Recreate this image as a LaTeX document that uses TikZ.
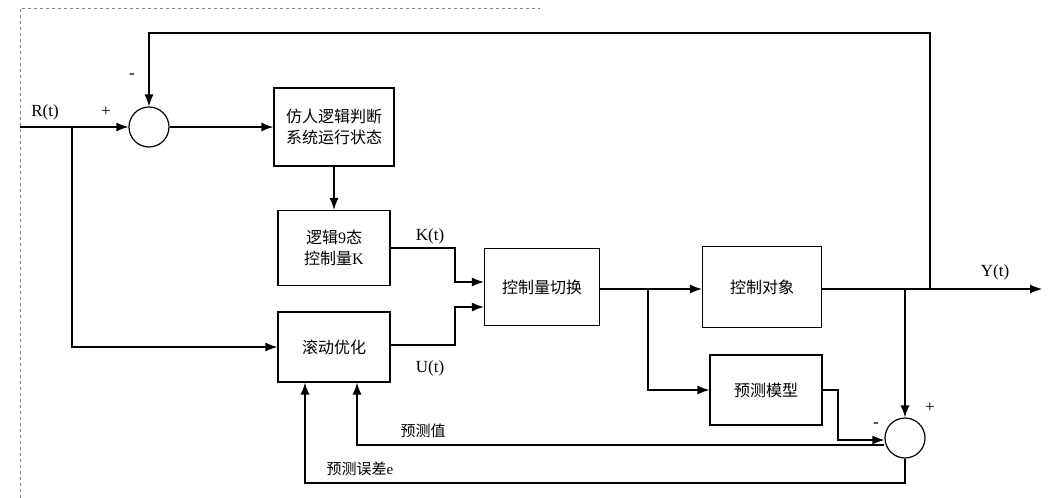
\documentclass[tikz,border=0pt]{standalone}
\usepackage{fontspec}
\setmainfont{Liberation Serif}
\newfontfamily\cjk{Noto Sans CJK SC}
\usetikzlibrary{arrows.meta}
\begin{document}
\begin{tikzpicture}[x=1pt,y=-1pt,
  blk/.style={draw,line width=1.2pt,inner sep=0pt,font=\cjk\fontsize{16}{21}\selectfont,align=center},
  sum/.style={draw,line width=1.2pt,circle,minimum size=40pt,inner sep=0pt},
  lbl/.style={font=\fontsize{17}{19}\selectfont},
  ln/.style={line width=1.2pt},
  ar/.style={line width=1.2pt,-{Latex[length=12pt,width=9pt]}}]
\useasboundingbox (0,0) rectangle (1058,498);
\draw[gray,dashed] (20,498) -- (20,8) -- (540,8);
% nodes
\node[sum] (s1) at (149,127) {};
\node[sum] (s2) at (905,438) {};
\node[blk,minimum width=120pt,minimum height=78pt] (b1) at (334,127) {仿人逻辑判断\\系统运行状态};
\node[blk,minimum width=112pt,minimum height=75pt] (b2) at (334,248) {逻辑{\rmfamily 9}态\\控制量{\rmfamily K}};
\node[blk,minimum width=112pt,minimum height=70pt] (b3) at (334,347) {滚动优化};
\node[blk,minimum width=115pt,minimum height=77pt] (b4) at (542,287) {控制量切换};
\node[blk,minimum width=119pt,minimum height=81pt] (b5) at (762,287) {控制对象};
\node[blk,minimum width=112pt,minimum height=70pt] (b6) at (766,390) {预测模型};
\coordinate (in) at (20,127);
\coordinate (out) at (1042,289);
% labels
\node[lbl] at (45,112) {R(t)};
\node[lbl] at (106,112) {+};
\node[lbl] at (132,76) {-};
\node[lbl] at (430,236) {K(t)};
\node[lbl] at (430,368) {U(t)};
\node[lbl] at (995,272) {Y(t)};
\node[lbl] at (930,408) {+};
\node[lbl] at (876,425) {-};
\node[font=\cjk\fontsize{15}{18}\selectfont] at (423,431) {预测值};
\node[font=\cjk\fontsize{15}{18}\selectfont] at (360,469) {预测误差{\rmfamily e}};
% connectors
\draw[ar] (in) -- (s1);
\draw[ar] (s1) -- (b1);
\draw[ar] (b1) -- (b2);
\draw[ar] (72,127) |- (b3.west);
\draw[ar] (b2.east |- 0,248) -| (455,282) -- (b4.west |- 0,282);
\draw[ar] (b3.east |- 0,345) -| (455,307) -- (b4.west |- 0,307);
\draw[ar] (b4.east |- 0,289) -- (b5.west |- 0,289);
\draw[ar] (648,289) |- (b6.west);
\draw[ar] (b5.east |- 0,289) -- (out);
\draw[ar] (930,289) |- (149,33) -- (s1);
\draw[ar] (905,289) -- (s2.north);
\draw[ar] (b6.east) -| (838,440) -- (s2.west |- 0,440);
\draw[ar] (s2.west |- 0,445) -| (b3.south -| 357,0);
\draw[ar] (s2.south) |- (305,483) -- (b3.south -| 305,0);
\end{tikzpicture}
\end{document}
